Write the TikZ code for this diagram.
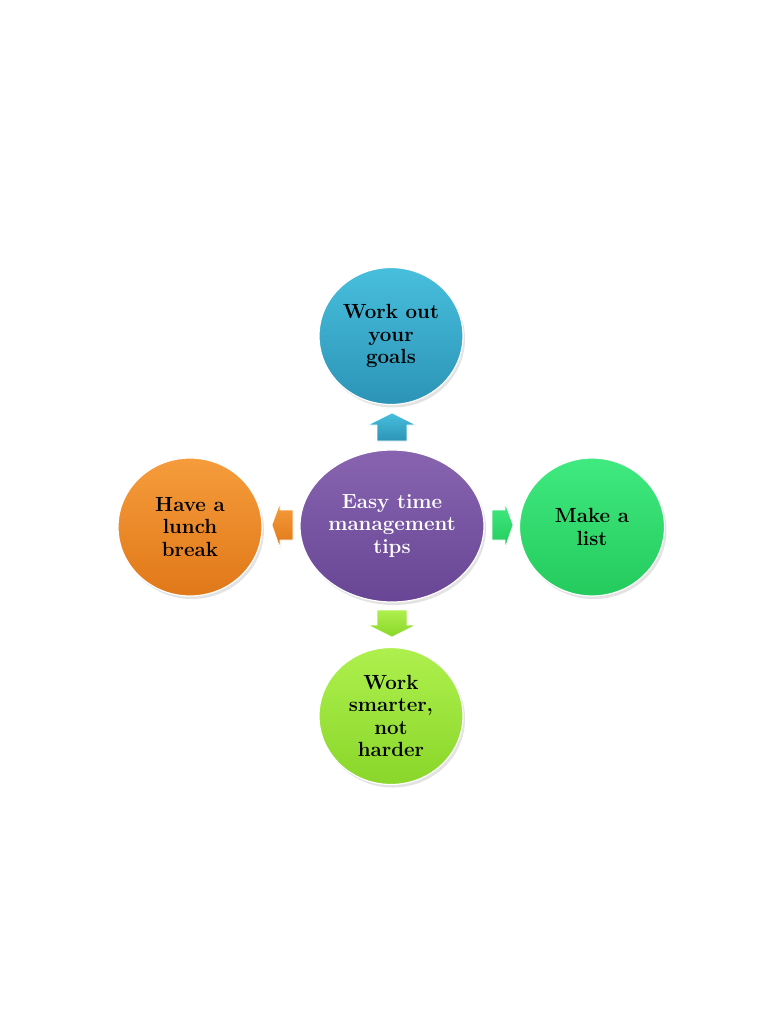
\documentclass[tikz,border=0pt]{standalone}
\usetikzlibrary{shapes.geometric,shadows}
\definecolor{bluetop}{HTML}{48BEDD}
\definecolor{bluebot}{HTML}{2C94B6}
\definecolor{purtop}{HTML}{8864B0}
\definecolor{purbot}{HTML}{684695}
\definecolor{ortop}{HTML}{F69C3C}
\definecolor{orbot}{HTML}{E07818}
\definecolor{grtop}{HTML}{40EA80}
\definecolor{grbot}{HTML}{24CA5C}
\definecolor{limtop}{HTML}{AEF04E}
\definecolor{limbot}{HTML}{8AD62A}
\tikzset{
  bubble/.style={ellipse, inner sep=0pt, font=\fontsize{20.5}{22.5}\selectfont\bfseries,
    align=center, text=black, draw=white, line width=1.2pt,
    drop shadow={shadow xshift=2pt, shadow yshift=-3pt, opacity=0.18, fill=black!60}},
  blockarr/.style={draw=white, line width=0.6pt, line join=round}
}
\begin{document}
\begin{tikzpicture}[x=1pt,y=-1pt]
\fill[white] (0,0) rectangle (768,1024);
\useasboundingbox (0,0) rectangle (768,1024);
% nodes
\node[bubble, minimum width=184pt, minimum height=152pt, top color=purtop, bottom color=purbot, text=white] (center) at (392,526) {Easy time\\management\\tips};
\node[bubble, minimum width=144pt, minimum height=137pt, top color=bluetop, bottom color=bluebot] (top) at (391,336) {Work out\\your\\goals};
\node[bubble, minimum width=144pt, minimum height=138pt, top color=ortop, bottom color=orbot] (left) at (190,527) {Have a\\lunch\\break};
\node[bubble, minimum width=145pt, minimum height=138pt, top color=grtop, bottom color=grbot] (right) at (592,527) {Make a\\list};
\node[bubble, minimum width=144pt, minimum height=137pt, top color=limtop, bottom color=limbot] (bottom) at (391,716) {Work\\smarter,\\not\\harder};
% block arrows
\path[blockarr, top color=bluetop, bottom color=bluebot]
  (392,413) -- (416,425) -- (407,425) -- (407,441) -- (377,441) -- (377,425) -- (368,425) -- cycle;
\path[blockarr, top color=limtop, bottom color=limbot]
  (392,637) -- (416,625) -- (407,625) -- (407,610) -- (377,610) -- (377,625) -- (368,625) -- cycle;
\path[blockarr, top color=ortop, bottom color=orbot]
  (272,525) -- (280,503) -- (280,510) -- (293,510) -- (293,540) -- (280,540) -- (280,548) -- cycle;
\path[blockarr, top color=grtop, bottom color=grbot]
  (513,525) -- (505,503) -- (505,510) -- (492,510) -- (492,540) -- (505,540) -- (505,548) -- cycle;
\end{tikzpicture}
\end{document}
